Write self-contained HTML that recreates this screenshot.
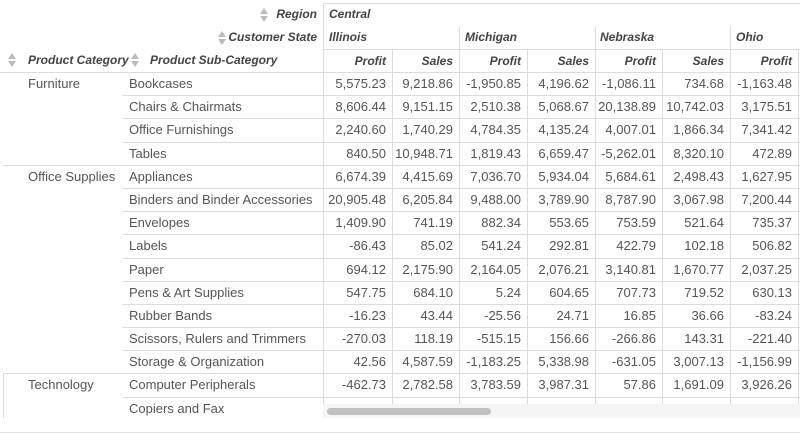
<!DOCTYPE html>
<html>
<head>
<meta charset="utf-8">
<style>
  html,body{margin:0;padding:0;background:#fff;}
  body{width:800px;height:434px;position:relative;overflow:hidden;font-family:"Liberation Sans",Arial,sans-serif;font-size:13px;color:#555;}
  .abs{position:absolute;}
  .hl{position:absolute;height:0;border-top:1px solid #dcdcdc;}
  .vl{position:absolute;width:0;border-left:1px solid #dcdcdc;}
  .h{position:absolute;font-weight:bold;font-style:italic;font-size:12px;color:#444;line-height:23px;white-space:nowrap;}
  .sort{position:absolute;width:8px;height:14px;}
  .sort::before{content:'';position:absolute;left:0;top:0;border-left:4px solid transparent;border-right:4px solid transparent;border-bottom:6px solid #bbb;}
  .sort::after{content:'';position:absolute;left:0;top:8px;border-left:4px solid transparent;border-right:4px solid transparent;border-top:6px solid #bbb;}
  .L{position:absolute;left:0;top:72px;width:323px;}
  .lr{height:23.2px;position:relative;}
  .lr .c{position:absolute;left:28px;top:1px;line-height:22px;white-space:nowrap;}
  .lr .s{position:absolute;left:123px;right:0;top:0;height:100%;border-top:1px solid #dcdcdc;padding-left:6px;line-height:22px;box-sizing:border-box;white-space:nowrap;}
  .lr.g::before{content:'';position:absolute;left:3px;right:0;top:0;border-top:1px solid #dcdcdc;}
  .lr.first .s{border-top:none;padding-top:1px;}
  .R{position:absolute;left:323px;top:72px;width:477px;height:332px;overflow:hidden;}
  .rr{display:flex;height:23.2px;box-sizing:border-box;border-top:1px solid #dcdcdc;}
  .rr.first{border-top:1px solid transparent;}
  .rr span{box-sizing:border-box;border-left:1px solid #dcdcdc;text-align:right;padding-right:6px;line-height:22px;flex:none;white-space:nowrap;height:100%;}
  .w1{width:69px}.w2{width:67px}.w3{width:68px}.w4{width:68px}.w5{width:67px}.w6{width:68px}.w7{width:68px}.w8{width:2px;padding:0 !important}
  .HR{position:absolute;left:323px;top:49px;width:477px;}
  .HR .rr{border-top:1px solid #dcdcdc;height:24px;}
  .HR .rr span{font-weight:bold;font-style:italic;font-size:12px;color:#444;line-height:22px;}
</style>
</head>
<body>

<!-- header left -->
<div class="sort" style="left:260px;top:8px;"></div>
<div class="h" style="right:483px;top:3px;">Region</div>
<div class="sort" style="left:218px;top:31px;"></div>
<div class="h" style="right:483px;top:26px;">Customer State</div>
<div class="sort" style="left:8px;top:53px;"></div>
<div class="h" style="left:28px;top:49px;">Product Category</div>
<div class="sort" style="left:131px;top:53px;"></div>
<div class="h" style="left:150px;top:49px;">Product Sub-Category</div>

<!-- header right lines -->
<div class="hl" style="left:323px;width:477px;top:3px;"></div>
<div class="vl" style="left:323px;top:3px;height:401px;"></div>
<div class="vl" style="left:459px;top:26px;height:24px;"></div>
<div class="vl" style="left:595px;top:26px;height:24px;"></div>
<div class="vl" style="left:730px;top:26px;height:24px;"></div>
<div class="h" style="left:329px;top:3px;">Central</div>
<div class="h" style="left:329px;top:26px;">Illinois</div>
<div class="h" style="left:465px;top:26px;">Michigan</div>
<div class="h" style="left:600px;top:26px;">Nebraska</div>
<div class="h" style="left:736px;top:26px;">Ohio</div>

<div class="HR">
  <div class="rr">
    <span class="w1">Profit</span><span class="w2">Sales</span><span class="w3">Profit</span><span class="w4">Sales</span><span class="w5">Profit</span><span class="w6">Sales</span><span class="w7">Profit</span><span class="w8"></span>
  </div>
</div>

<div class="hl" style="left:0;width:800px;top:72px;"></div>

<!-- left rows -->
<div class="L">
  <div class="lr first"><span class="c">Furniture</span><span class="s">Bookcases</span></div>
  <div class="lr"><span class="s">Chairs &amp; Chairmats</span></div>
  <div class="lr"><span class="s">Office Furnishings</span></div>
  <div class="lr"><span class="s">Tables</span></div>
  <div class="lr g"><span class="c">Office Supplies</span><span class="s">Appliances</span></div>
  <div class="lr"><span class="s">Binders and Binder Accessories</span></div>
  <div class="lr"><span class="s">Envelopes</span></div>
  <div class="lr"><span class="s">Labels</span></div>
  <div class="lr"><span class="s">Paper</span></div>
  <div class="lr"><span class="s">Pens &amp; Art Supplies</span></div>
  <div class="lr"><span class="s">Rubber Bands</span></div>
  <div class="lr"><span class="s">Scissors, Rulers and Trimmers</span></div>
  <div class="lr"><span class="s">Storage &amp; Organization</span></div>
  <div class="lr g"><span class="c">Technology</span><span class="s">Computer Peripherals</span></div>
  <div class="lr" style="height:22px;"><span class="s">Copiers and Fax</span></div>
</div>
<div class="vl" style="left:3px;top:373px;height:45px;"></div>

<!-- data -->
<div class="R">
  <div class="rr first"><span class="w1">5,575.23</span><span class="w2">9,218.86</span><span class="w3">-1,950.85</span><span class="w4">4,196.62</span><span class="w5">-1,086.11</span><span class="w6">734.68</span><span class="w7">-1,163.48</span><span class="w8"></span></div>
  <div class="rr"><span class="w1">8,606.44</span><span class="w2">9,151.15</span><span class="w3">2,510.38</span><span class="w4">5,068.67</span><span class="w5">20,138.89</span><span class="w6">10,742.03</span><span class="w7">3,175.51</span><span class="w8"></span></div>
  <div class="rr"><span class="w1">2,240.60</span><span class="w2">1,740.29</span><span class="w3">4,784.35</span><span class="w4">4,135.24</span><span class="w5">4,007.01</span><span class="w6">1,866.34</span><span class="w7">7,341.42</span><span class="w8"></span></div>
  <div class="rr"><span class="w1">840.50</span><span class="w2">10,948.71</span><span class="w3">1,819.43</span><span class="w4">6,659.47</span><span class="w5">-5,262.01</span><span class="w6">8,320.10</span><span class="w7">472.89</span><span class="w8"></span></div>
  <div class="rr"><span class="w1">6,674.39</span><span class="w2">4,415.69</span><span class="w3">7,036.70</span><span class="w4">5,934.04</span><span class="w5">5,684.61</span><span class="w6">2,498.43</span><span class="w7">1,627.95</span><span class="w8"></span></div>
  <div class="rr"><span class="w1">20,905.48</span><span class="w2">6,205.84</span><span class="w3">9,488.00</span><span class="w4">3,789.90</span><span class="w5">8,787.90</span><span class="w6">3,067.98</span><span class="w7">7,200.44</span><span class="w8"></span></div>
  <div class="rr"><span class="w1">1,409.90</span><span class="w2">741.19</span><span class="w3">882.34</span><span class="w4">553.65</span><span class="w5">753.59</span><span class="w6">521.64</span><span class="w7">735.37</span><span class="w8"></span></div>
  <div class="rr"><span class="w1">-86.43</span><span class="w2">85.02</span><span class="w3">541.24</span><span class="w4">292.81</span><span class="w5">422.79</span><span class="w6">102.18</span><span class="w7">506.82</span><span class="w8"></span></div>
  <div class="rr"><span class="w1">694.12</span><span class="w2">2,175.90</span><span class="w3">2,164.05</span><span class="w4">2,076.21</span><span class="w5">3,140.81</span><span class="w6">1,670.77</span><span class="w7">2,037.25</span><span class="w8"></span></div>
  <div class="rr"><span class="w1">547.75</span><span class="w2">684.10</span><span class="w3">5.24</span><span class="w4">604.65</span><span class="w5">707.73</span><span class="w6">719.52</span><span class="w7">630.13</span><span class="w8"></span></div>
  <div class="rr"><span class="w1">-16.23</span><span class="w2">43.44</span><span class="w3">-25.56</span><span class="w4">24.71</span><span class="w5">16.85</span><span class="w6">36.66</span><span class="w7">-83.24</span><span class="w8"></span></div>
  <div class="rr"><span class="w1">-270.03</span><span class="w2">118.19</span><span class="w3">-515.15</span><span class="w4">156.66</span><span class="w5">-266.86</span><span class="w6">143.31</span><span class="w7">-221.40</span><span class="w8"></span></div>
  <div class="rr"><span class="w1">42.56</span><span class="w2">4,587.59</span><span class="w3">-1,183.25</span><span class="w4">5,338.98</span><span class="w5">-631.05</span><span class="w6">3,007.13</span><span class="w7">-1,156.99</span><span class="w8"></span></div>
  <div class="rr"><span class="w1">-462.73</span><span class="w2">2,782.58</span><span class="w3">3,783.59</span><span class="w4">3,987.31</span><span class="w5">57.86</span><span class="w6">1,691.09</span><span class="w7">3,926.26</span><span class="w8"></span></div>
  <div class="rr"><span class="w1">3,784.13</span><span class="w2">2,801.60</span><span class="w3">2,000.00</span><span class="w4">14,044.09</span><span class="w5">17,546.40</span><span class="w6">1,405.58</span><span class="w7">199.01</span><span class="w8"></span></div>
</div>

<!-- scrollbar -->
<div class="abs" style="left:323px;top:404px;width:477px;height:14px;background:#f5f5f5;"></div>
<div class="abs" style="left:327px;top:408px;width:164px;height:7px;background:#c1c1c1;border-radius:4px;"></div>

<!-- bottom line -->
<div class="hl" style="left:0;width:800px;top:432px;border-top-color:#e2e2e2;"></div>

</body>
</html>
